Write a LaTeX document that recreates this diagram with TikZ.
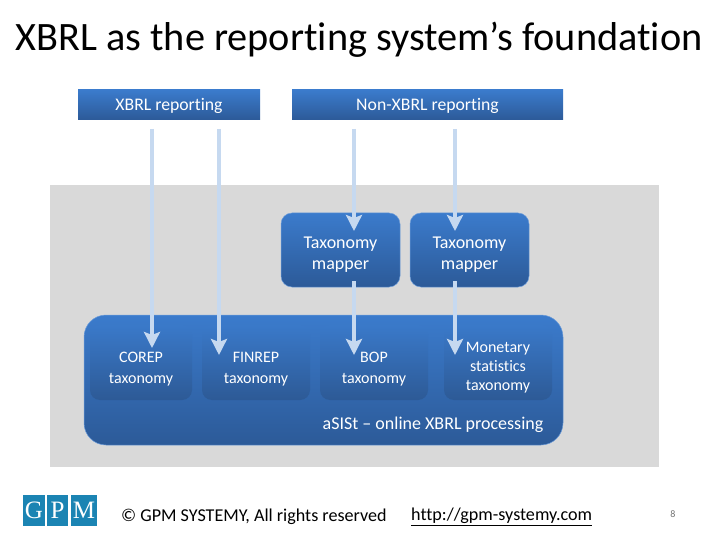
\documentclass[tikz,border=0pt]{standalone}
\usepackage{fontspec}
\setmainfont{Carlito}[Ligatures=NoCommon]
\usetikzlibrary{arrows.meta}
\definecolor{gridgray}{HTML}{D9D9D9}
\definecolor{bluetop}{HTML}{3B7BCC}
\definecolor{bluebot}{HTML}{2C5A98}
\definecolor{innertop}{HTML}{3A79C9}
\definecolor{innerbot}{HTML}{2D5A96}
\definecolor{arrowblue}{HTML}{C6D9F0}
\definecolor{logoblue}{HTML}{1B84B3}
\newcommand\pushline[1]{\rule{0pt}{#1}}
\tikzset{
  header/.style={rectangle,top color=bluetop,bottom color=bluebot,text=white,font=\fontsize{17.7}{18}\selectfont,inner sep=0pt,minimum height=30pt},
  mapperbox/.style={rectangle,rounded corners=11pt,top color=bluetop,bottom color=bluebot,draw=arrowblue!35!bluetop,line width=.5pt,text=white,align=center,font=\fontsize{18}{21}\selectfont,inner sep=0pt,minimum width=119pt,minimum height=74pt},
  mainbox/.style={rectangle,rounded corners=22pt,top color=bluetop,bottom color=bluebot,draw=arrowblue!35!bluetop,line width=.5pt,inner sep=0pt,minimum width=479pt,minimum height=130pt},
  taxbox/.style={rectangle,rounded corners=10pt,top color=innertop,bottom color=innerbot,text=white,align=center,font=\fontsize{16}{21}\selectfont,inner sep=0pt,minimum height=75pt},
  flow/.style={draw=arrowblue,line width=4.5pt,-{Stealth[length=16pt,width=16pt,inset=3pt]}},
  logosq/.style={rectangle,fill=logoblue,text=white,font=\fontspec{Liberation Serif}\fontsize{25}{25}\selectfont,inner sep=0pt,minimum height=31pt},
  foot/.style={inner sep=0pt,font=\fontsize{18.1}{20}\selectfont}
}
\begin{document}
\begin{tikzpicture}[x=1pt,y=-1pt]
\useasboundingbox (0,0) rectangle (720,540);
\node[inner sep=0pt,font=\fontsize{40.3}{42}\selectfont] (title) at (359,40) {XBRL as the reporting system’s foundation};
\node[rectangle,fill=gridgray,inner sep=0pt,minimum width=609pt,minimum height=282pt] (panel) at (354.5,326) {};
\node[header,minimum width=182pt] (xbrl) at (169,105) {\pushline{15pt}XBRL reporting};
\node[header,minimum width=271pt] (nonxbrl) at (427.5,105) {\pushline{15pt}Non-XBRL reporting};
\node[mapperbox] (mapA) at (340.5,250) {\pushline{21pt}Taxonomy\\mapper};
\node[mapperbox] (mapB) at (469.5,250) {\pushline{21pt}Taxonomy\\mapper};
\node[mainbox] (asist) at (323.5,380) {};
\node[taxbox,minimum width=102pt] (corep) at (141,362.5) {\pushline{23pt}COREP\\taxonomy};
\node[taxbox,minimum width=108pt] (finrep) at (256,362.5) {\pushline{23pt}FINREP\\taxonomy};
\node[taxbox,minimum width=108pt] (bop) at (374,362.5) {\pushline{23pt}BOP\\taxonomy};
\node[taxbox,minimum width=108pt,font=\fontsize{16}{19}\selectfont] (monetary) at (498,362.5) {\pushline{21pt}Monetary\\statistics\\taxonomy};
\node[inner sep=0pt,text=white,font=\fontsize{18}{20}\selectfont] (asistlabel) at (433,425) {aSISt – online XBRL processing};
\coordinate (s1) at (152,129);
\coordinate (e1) at (152,348);
\coordinate (s2) at (219,129);
\coordinate (e2) at (219,355);
\coordinate (s3) at (354,129);
\coordinate (e3) at (354,231);
\coordinate (s4) at (455,129);
\coordinate (e4) at (455,231);
\coordinate (s5) at (354,281);
\coordinate (e5) at (354,355);
\coordinate (s6) at (455,281);
\coordinate (e6) at (455,355);
\draw[flow] (s1) -- (e1);
\draw[flow] (s2) -- (e2);
\draw[flow] (s3) -- (e3);
\draw[flow] (s4) -- (e4);
\draw[flow] (s5) -- (e5);
\draw[flow] (s6) -- (e6);
\node[logosq,minimum width=22pt] (logoG) at (34,510.5) {G};
\node[logosq,minimum width=21pt] (logoP) at (57.5,510.5) {P};
\node[logosq,minimum width=26pt] (logoM) at (84,510.5) {M};
\node[foot,anchor=west] (copy) at (121,517) {© GPM SYSTEMY, All rights reserved};
\node[foot,anchor=west] (link) at (411,517) {\underline{http://gpm-systemy.com}};
\node[inner sep=0pt,text=black!55,font=\fontsize{10}{12}\selectfont] (page) at (673,514.5) {8};
\end{tikzpicture}
\end{document}
